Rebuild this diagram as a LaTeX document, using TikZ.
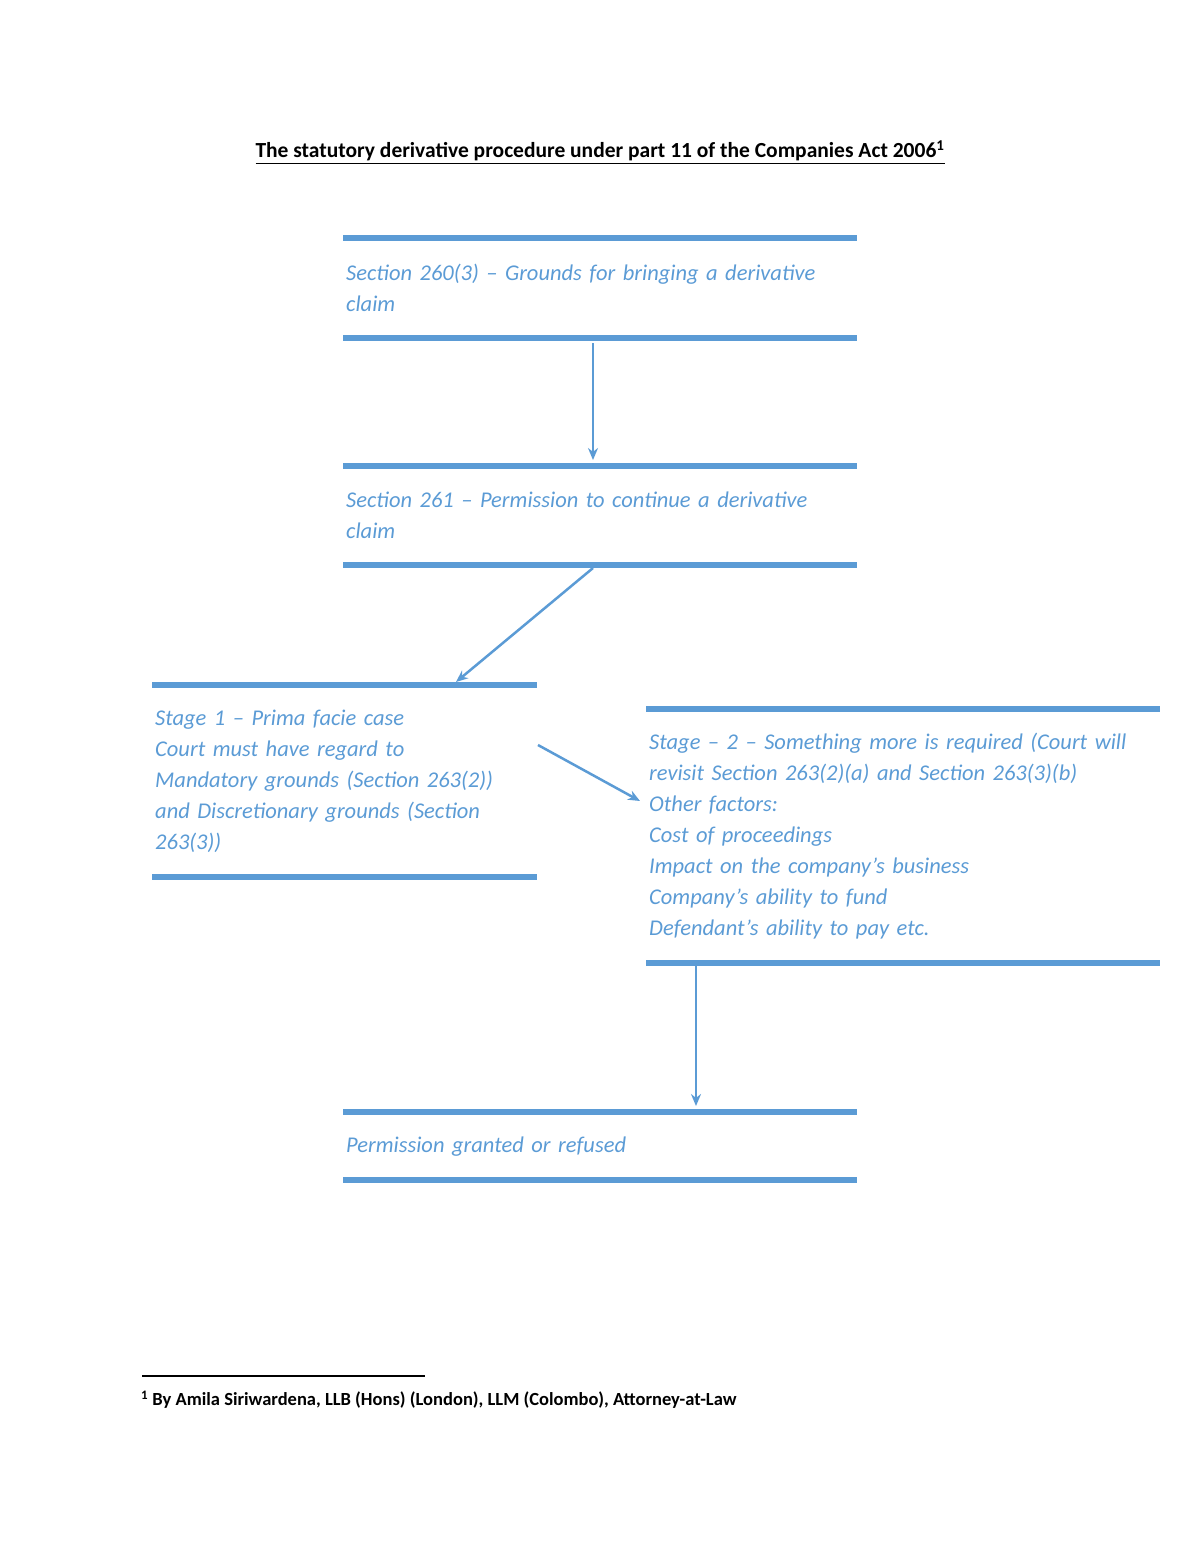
\documentclass[tikz,border=0pt]{standalone}
\usepackage{fontspec}
\setmainfont{Carlito}
\usetikzlibrary{arrows.meta}
\definecolor{flowblue}{HTML}{5B9BD5}
\tikzset{
  stage/.style={anchor=north west, inner xsep=3pt, inner ysep=0pt, align=left,
    text=flowblue, font=\fontsize{22.5}{31}\selectfont\itshape},
  rule/.style={draw=flowblue, line width=6pt},
  flow/.style={draw=flowblue, line width=2.5pt, -{Stealth[length=12pt,width=10pt]}}
}
\begin{document}
\begin{tikzpicture}[x=1pt,y=-1pt]
  \useasboundingbox (0,0) rectangle (1200,1553);
  % title
  \node (title) at (600,152) {\fontsize{21.5}{24}\selectfont\bfseries\underline{The statutory derivative procedure under part 11 of the Companies Act 2006\textsuperscript{1}}};
  % boxes
  \node[stage, text width=508pt, minimum height=100pt] (grounds) at (343,238)
    {Section 260(3) -- Grounds for bringing a derivative\\claim};
  \node[stage, text width=508pt, minimum height=99pt] (perm) at (343,466)
    {Section 261 -- Permission to continue a derivative\\claim};
  \node[stage, text width=379pt, minimum height=192pt] (stage1) at (152,685)
    {Stage 1 -- Prima facie case\\Court must have regard to\\Mandatory grounds (Section 263(2))\\and Discretionary grounds (Section\\263(3))};
  \node[stage, text width=508pt, minimum height=254pt] (stage2) at (646,709)
    {Stage -- 2 -- Something more is required (Court will\\revisit Section 263(2)(a) and Section 263(3)(b)\\Other factors:\\Cost of proceedings\\Impact on the company's business\\Company's ability to fund\\Defendant's ability to pay etc.};
  \node[stage, text width=508pt, minimum height=68pt] (result) at (343,1112)
    {Permission granted or refused};
  \foreach \b in {grounds,perm,stage1,stage2,result}{
    \draw[rule] (\b.north west) -- (\b.north east);
    \draw[rule] (\b.south west) -- (\b.south east);
  }
  % arrow ends
  \coordinate (gout) at (593,343);
  \coordinate (pin) at (593,460);
  \coordinate (pout) at (593,568);
  \coordinate (s1in) at (456,682);
  \coordinate (s1out) at (538,745);
  \coordinate (s2in) at (640,801);
  \coordinate (s2out) at (696,966);
  \coordinate (resin) at (696,1106);
  \draw[flow] (gout) -- (pin);
  \draw[flow] (pout) -- (s1in);
  \draw[flow] (s1out) -- (s2in);
  \draw[flow] (s2out) -- (resin);
  % footnote
  \coordinate (fnl) at (142,1376);
  \coordinate (fnr) at (425,1376);
  \draw[line width=2.5pt] (fnl) -- (fnr);
  \node[anchor=west, inner sep=0pt, font=\fontsize{18.5}{20}\selectfont\bfseries] (fn) at (141,1400)
    {\textsuperscript{1} By Amila Siriwardena, LLB (Hons) (London), LLM (Colombo), Attorney-at-Law};
\end{tikzpicture}
\end{document}
